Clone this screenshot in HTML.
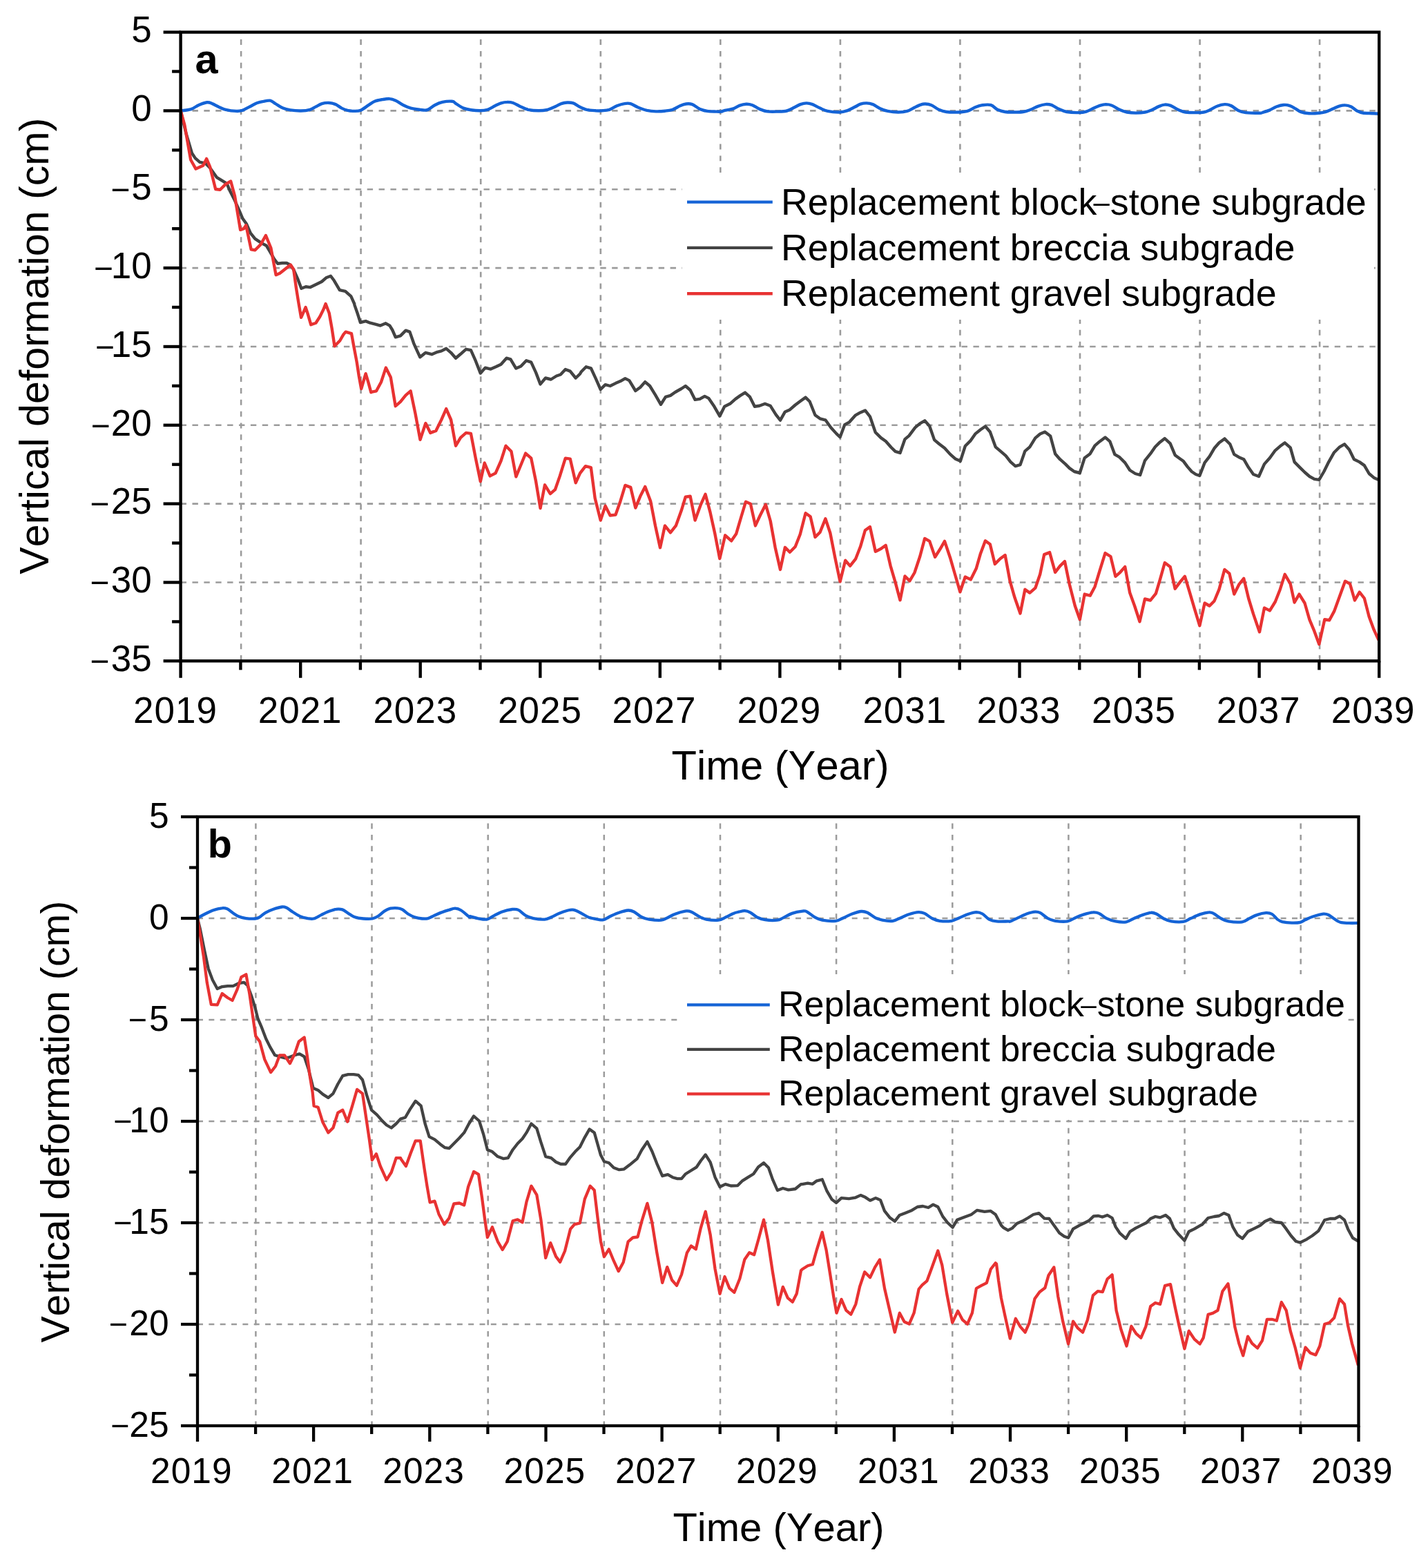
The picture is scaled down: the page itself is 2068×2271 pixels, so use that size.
<!DOCTYPE html>
<html><head><meta charset="utf-8"><title>Vertical deformation</title>
<style>
html,body{margin:0;padding:0;background:#fff;}
svg{display:block;}
text{font-family:"Liberation Sans", Arial, Helvetica, sans-serif;fill:#000;font-kerning:none;}
</style></head><body>
<svg width="2068" height="2271" viewBox="0 0 2068 2271">
<rect width="2068" height="2271" fill="#fff"/>
<g stroke="#9b9b9b" stroke-width="2.6" stroke-dasharray="8.4 8.48" stroke-dashoffset="0" fill="none"><line x1="261.6" y1="160.4" x2="1997.2" y2="160.4"/><line x1="261.6" y1="274.3" x2="1997.2" y2="274.3"/><line x1="261.6" y1="388.1" x2="1997.2" y2="388.1"/><line x1="261.6" y1="502.0" x2="1997.2" y2="502.0"/><line x1="261.6" y1="615.8" x2="1997.2" y2="615.8"/><line x1="261.6" y1="729.6" x2="1997.2" y2="729.6"/><line x1="261.6" y1="843.5" x2="1997.2" y2="843.5"/></g>
<g stroke="#9b9b9b" stroke-width="2.6" stroke-dasharray="7.9 8.93" stroke-dashoffset="6.33" fill="none"><line x1="349.1" y1="46.6" x2="349.1" y2="957.3"/><line x1="522.6" y1="46.6" x2="522.6" y2="957.3"/><line x1="696.2" y1="46.6" x2="696.2" y2="957.3"/><line x1="869.8" y1="46.6" x2="869.8" y2="957.3"/><line x1="1043.3" y1="46.6" x2="1043.3" y2="957.3"/><line x1="1216.9" y1="46.6" x2="1216.9" y2="957.3"/><line x1="1390.4" y1="46.6" x2="1390.4" y2="957.3"/><line x1="1564.0" y1="46.6" x2="1564.0" y2="957.3"/><line x1="1737.6" y1="46.6" x2="1737.6" y2="957.3"/><line x1="1911.1" y1="46.6" x2="1911.1" y2="957.3"/></g>
<rect x="988" y="250" width="1002" height="213" fill="#fff"/>
<path d="M261.6,160.4 C264.1,160.1 272.4,159.5 276.8,158.1 C281.1,156.7 283.9,153.9 287.7,152.2 C291.5,150.6 296.4,148.7 299.7,148.3 C302.9,147.9 304.6,149.0 307.3,150.1 C310.0,151.1 312.7,153.0 316.0,154.4 C319.3,155.9 322.5,157.7 326.9,158.8 C331.3,159.9 338.2,160.8 342.1,160.9 C346.1,161.1 347.6,160.9 350.9,159.9 C354.1,158.8 358.1,156.2 361.8,154.4 C365.4,152.6 369.4,150.2 372.6,149.0 C375.9,147.7 378.3,147.3 381.4,146.8 C384.4,146.2 388.3,145.2 391.2,145.7 C394.1,146.2 395.7,148.2 398.8,150.1 C401.9,151.9 406.1,155.0 409.7,156.6 C413.3,158.2 416.2,158.8 420.6,159.4 C424.9,160.1 431.1,160.6 435.8,160.5 C440.5,160.4 445.3,159.8 448.9,158.8 C452.5,157.8 454.7,155.9 457.6,154.4 C460.5,153.0 463.1,151.0 466.3,150.1 C469.6,149.1 474.0,148.8 477.2,149.0 C480.5,149.1 483.0,149.9 485.9,151.1 C488.8,152.4 491.7,155.1 494.7,156.6 C497.6,158.0 500.1,159.1 503.4,159.9 C506.6,160.6 511.0,161.0 514.3,160.9 C517.5,160.9 519.7,160.9 523.0,159.4 C526.2,158.0 530.6,154.3 533.9,152.2 C537.1,150.1 539.3,148.1 542.6,146.8 C545.8,145.4 549.8,144.8 553.5,144.2 C557.1,143.6 561.1,142.8 564.4,143.1 C567.6,143.3 569.8,144.2 573.1,145.7 C576.4,147.2 580.3,150.4 584.0,152.2 C587.6,154.0 590.9,155.5 594.9,156.6 C598.9,157.7 603.9,158.3 607.9,158.8 C611.9,159.2 615.2,160.3 618.8,159.2 C622.5,158.1 626.1,154.1 629.7,152.2 C633.4,150.3 636.4,148.8 640.6,147.9 C644.8,147.0 651.7,146.4 655.0,146.8 C658.3,147.1 657.6,148.4 660.3,150.1 C662.9,151.7 667.5,155.1 671.1,156.6 C674.8,158.1 678.0,158.6 682.0,159.2 C686.0,159.8 691.1,160.4 695.1,160.3 C699.1,160.2 702.4,159.9 706.0,158.8 C709.6,157.6 713.6,154.9 716.9,153.3 C720.2,151.8 722.7,150.3 725.6,149.4 C728.5,148.5 731.4,147.9 734.3,147.9 C737.2,147.8 739.8,147.9 743.0,149.0 C746.3,150.1 750.3,152.8 753.9,154.4 C757.6,156.0 760.5,157.8 764.8,158.8 C769.2,159.7 775.4,160.3 780.1,160.3 C784.8,160.3 789.2,159.7 793.1,158.8 C797.1,157.8 800.8,155.9 804.0,154.4 C807.3,153.0 809.9,151.0 812.8,150.1 C815.7,149.1 818.6,148.6 821.5,148.5 C824.4,148.4 827.3,148.4 830.2,149.4 C833.1,150.4 835.6,152.9 838.9,154.4 C842.2,156.0 845.8,157.8 849.8,158.8 C853.8,159.7 859.2,160.0 862.9,160.3 C866.5,160.5 868.3,160.5 871.6,160.3 C874.8,160.0 878.8,159.9 882.5,158.8 C886.1,157.6 889.7,154.8 893.4,153.3 C897.0,151.9 901.0,150.6 904.3,150.1 C907.5,149.5 909.7,149.1 913.0,150.1 C916.2,151.0 919.9,153.9 923.9,155.5 C927.9,157.1 932.6,158.9 936.9,159.9 C941.3,160.8 945.7,161.2 950.0,161.4 C954.4,161.5 959.1,161.2 963.1,160.7 C967.1,160.3 970.3,160.0 974.0,158.8 C977.6,157.5 981.6,154.7 984.9,153.3 C988.1,151.9 990.7,150.9 993.6,150.5 C996.5,150.1 999.0,149.9 1002.3,151.1 C1005.6,152.3 1009.6,156.0 1013.2,157.7 C1016.8,159.3 1020.1,160.3 1024.1,160.9 C1028.1,161.6 1033.7,161.5 1037.2,161.6 C1040.6,161.7 1043.2,161.8 1045.0,161.6 C1046.8,161.4 1045.4,160.9 1048.1,160.3 C1050.8,159.6 1057.3,158.9 1061.1,157.7 C1065.0,156.4 1067.7,154.0 1070.9,152.9 C1074.2,151.7 1077.7,150.8 1080.8,150.7 C1083.8,150.6 1086.2,151.0 1089.5,152.2 C1092.7,153.5 1096.7,156.6 1100.4,158.1 C1104.0,159.6 1106.9,160.8 1111.3,161.4 C1115.6,162.0 1121.8,161.7 1126.5,161.6 C1131.2,161.5 1135.6,161.5 1139.6,160.5 C1143.6,159.5 1147.2,157.1 1150.5,155.5 C1153.7,153.9 1156.3,152.2 1159.2,151.1 C1162.1,150.1 1165.0,149.4 1167.9,149.4 C1170.8,149.4 1173.3,149.9 1176.6,151.1 C1179.9,152.3 1183.9,155.0 1187.5,156.6 C1191.1,158.2 1193.7,160.0 1198.4,160.9 C1203.1,161.9 1211.1,162.6 1215.8,162.5 C1220.5,162.4 1223.1,161.5 1226.7,160.3 C1230.4,159.1 1234.3,156.7 1237.6,155.1 C1240.9,153.5 1243.4,151.7 1246.3,150.7 C1249.2,149.8 1252.1,149.3 1255.0,149.4 C1257.9,149.5 1260.5,149.8 1263.8,151.1 C1267.0,152.5 1271.0,155.6 1274.7,157.2 C1278.3,158.9 1281.2,160.1 1285.5,160.9 C1289.9,161.8 1296.1,162.5 1300.8,162.5 C1305.5,162.5 1309.9,162.1 1313.9,160.9 C1317.9,159.8 1321.5,157.1 1324.8,155.5 C1328.0,153.9 1330.9,152.4 1333.5,151.6 C1336.0,150.7 1337.5,150.4 1340.0,150.5 C1342.6,150.6 1345.5,150.9 1348.7,152.2 C1352.0,153.6 1356.0,157.1 1359.6,158.8 C1363.2,160.4 1365.8,161.4 1370.5,162.0 C1375.2,162.7 1382.9,162.7 1387.9,162.5 C1393.0,162.3 1397.0,162.1 1401.0,160.9 C1405.0,159.8 1408.3,157.0 1411.9,155.5 C1415.5,154.0 1419.0,152.8 1422.8,152.2 C1426.6,151.7 1431.4,151.1 1435.0,152.2 C1438.6,153.3 1441.2,157.1 1444.6,158.8 C1448.0,160.4 1451.5,161.4 1455.5,162.0 C1459.5,162.7 1464.2,162.5 1468.6,162.5 C1472.9,162.5 1477.7,162.7 1481.6,162.0 C1485.6,161.4 1488.9,160.1 1492.5,158.8 C1496.2,157.4 1499.8,155.0 1503.4,153.8 C1507.1,152.5 1511.1,151.4 1514.3,151.1 C1517.6,150.9 1519.8,151.1 1523.0,152.2 C1526.3,153.4 1530.3,156.5 1533.9,158.1 C1537.6,159.7 1540.1,161.2 1544.8,162.0 C1549.5,162.9 1557.5,163.2 1562.3,163.1 C1567.0,163.1 1569.5,162.7 1573.1,161.6 C1576.8,160.5 1580.8,158.0 1584.0,156.6 C1587.3,155.1 1589.9,153.8 1592.8,152.9 C1595.7,152.0 1598.6,151.2 1601.5,151.1 C1604.4,151.1 1606.9,151.4 1610.2,152.7 C1613.5,153.9 1617.4,157.1 1621.1,158.8 C1624.7,160.4 1628.0,161.7 1632.0,162.5 C1636.0,163.3 1640.7,163.6 1645.0,163.6 C1649.4,163.6 1654.1,163.3 1658.1,162.5 C1662.1,161.7 1665.7,160.1 1669.0,158.8 C1672.3,157.4 1674.8,155.6 1677.7,154.4 C1680.6,153.2 1683.5,151.8 1686.4,151.6 C1689.3,151.3 1691.9,151.7 1695.2,152.9 C1698.4,154.1 1702.4,157.2 1706.0,158.8 C1709.7,160.4 1712.2,161.7 1716.9,162.5 C1721.7,163.2 1730.0,163.1 1734.4,163.1 C1738.7,163.1 1740.2,163.1 1743.1,162.5 C1746.0,161.9 1748.5,160.9 1751.8,159.4 C1755.1,158.0 1759.1,155.1 1762.7,153.8 C1766.3,152.4 1770.3,151.3 1773.6,151.1 C1776.9,151.0 1779.0,151.4 1782.3,152.9 C1785.6,154.3 1789.6,158.2 1793.2,159.9 C1796.8,161.6 1798.8,162.5 1804.1,163.1 C1809.4,163.8 1821.0,163.8 1825.0,163.8 C1829.0,163.8 1826.1,163.7 1828.3,163.0 C1830.6,162.3 1835.1,161.0 1838.4,159.6 C1841.8,158.2 1845.2,155.8 1848.6,154.5 C1852.0,153.3 1855.6,152.3 1858.7,152.0 C1861.8,151.7 1864.3,152.0 1867.1,152.9 C1870.0,153.7 1872.8,155.5 1875.6,157.1 C1878.4,158.6 1880.7,161.0 1884.0,162.1 C1887.4,163.3 1891.6,163.9 1895.8,164.2 C1900.1,164.5 1905.4,164.2 1909.4,163.8 C1913.3,163.5 1916.1,163.1 1919.5,162.1 C1922.9,161.2 1926.2,159.3 1929.6,157.9 C1933.0,156.5 1936.6,154.6 1939.7,153.7 C1942.8,152.8 1945.4,152.2 1948.2,152.4 C1951.0,152.5 1953.8,153.2 1956.6,154.5 C1959.4,155.9 1962.3,159.0 1965.1,160.5 C1967.9,161.9 1969.9,162.9 1973.5,163.5 C1977.2,164.1 1983.1,164.0 1987.0,164.2 C1991.0,164.4 1995.5,164.6 1997.1,164.7" fill="none" stroke="#1463d6" stroke-width="4.4" stroke-linejoin="round" stroke-linecap="butt"/>
<path d="M261.6,160.4 L269.7,193.9 L277.9,221.7 L282.8,229.1 L289.3,234.8 L297.5,236.4 L304.0,242.9 L313.8,256.8 L320.4,260.9 L328.5,265.8 L333.4,277.3 L340.0,290.3 L346.5,305.0 L351.4,316.5 L357.1,324.6 L362.8,337.7 L369.4,345.9 L379.2,352.4 L385.7,355.7 L390.6,363.9 L397.2,375.3 L402.1,381.8 L408.6,381.0 L415.1,381.0 L420.0,383.5 L424.9,390.0 L431.5,404.7 L436.4,417.8 L442.9,415.3 L449.4,416.1 L457.6,412.1 L465.8,408.0 L472.3,402.3 L478.9,399.8 L483.8,406.3 L491.9,420.2 L500.1,421.9 L508.3,429.2 L513.2,440.0 L513.5,441.9 L518.0,454.8 L521.9,467.0 L529.6,465.1 L536.1,467.7 L543.8,469.6 L550.9,471.6 L558.6,468.3 L564.4,471.6 L568.3,478.0 L572.8,488.3 L579.9,486.4 L587.6,478.6 L593.4,480.6 L599.2,497.3 L604.4,508.9 L608.3,517.3 L615.4,511.5 L616.4,510.8 L625.3,513.2 L633.3,509.8 L639.2,508.4 L646.2,504.8 L653.1,510.8 L660.0,518.7 L667.0,512.8 L674.9,505.8 L681.9,507.2 L688.8,522.7 L695.8,540.6 L702.7,532.6 L710.6,534.6 L718.6,531.0 L725.5,527.7 L733.5,518.7 L739.4,520.3 L747.3,533.6 L754.3,530.6 L762.2,522.3 L769.2,524.7 L776.1,539.6 L782.5,556.4 L790.0,547.5 L797.9,549.5 L805.9,544.5 L811.8,542.5 L818.8,535.0 L825.7,537.6 L833.7,547.5 L840.0,541.5 L841.9,538.2 L848.8,531.3 L855.8,533.3 L862.7,548.1 L869.7,564.0 L876.6,557.1 L883.6,559.0 L891.5,555.1 L898.5,552.1 L905.4,548.1 L911.3,551.1 L920.3,566.0 L927.2,561.0 L934.2,553.1 L941.1,559.0 L949.0,571.9 L957.0,585.8 L963.9,574.9 L970.9,572.9 L977.8,568.0 L986.7,563.0 L992.7,559.0 L999.6,565.0 L1006.6,578.9 L1013.5,577.9 L1020.5,573.9 L1026.4,576.9 L1034.4,588.8 L1042.3,602.7 L1049.2,588.8 L1057.2,584.8 L1065.1,577.9 L1072.1,572.9 L1079.0,568.6 L1086.0,574.9 L1092.9,588.8 L1099.8,587.8 L1107.8,584.8 L1115.7,587.8 L1123.7,600.7 L1130.0,608.7 L1136.9,596.4 L1143.8,593.4 L1151.7,586.5 L1159.7,580.5 L1166.6,575.6 L1172.6,581.5 L1180.5,601.3 L1187.5,606.3 L1195.4,608.3 L1203.3,619.2 L1211.3,628.1 L1216.6,633.1 L1223.2,615.2 L1230.1,611.3 L1239.0,601.3 L1246.0,597.4 L1252.9,594.4 L1259.9,603.3 L1267.8,626.2 L1275.8,634.1 L1282.7,639.0 L1290.6,648.0 L1296.6,653.9 L1303.5,655.9 L1310.5,636.1 L1316.4,631.1 L1325.4,619.2 L1332.3,613.3 L1339.2,609.3 L1346.2,617.2 L1353.1,637.1 L1360.1,643.0 L1368.0,649.0 L1376.0,657.9 L1383.9,664.8 L1390.8,667.8 L1397.8,646.0 L1405.7,638.1 L1412.7,628.1 L1420.0,622.2 L1426.9,617.5 L1433.8,625.5 L1441.7,647.3 L1449.7,654.2 L1456.6,660.2 L1463.6,669.1 L1470.5,675.1 L1477.5,673.1 L1484.4,653.3 L1491.3,647.3 L1499.3,634.4 L1506.2,628.5 L1513.2,625.5 L1521.1,631.4 L1528.1,657.2 L1535.0,665.2 L1542.9,672.1 L1548.9,678.1 L1555.8,683.0 L1563.8,685.0 L1570.7,663.2 L1578.7,657.2 L1585.6,645.3 L1592.5,639.4 L1600.5,633.4 L1607.4,639.4 L1614.4,658.2 L1621.3,662.2 L1629.2,670.1 L1636.2,681.0 L1644.1,686.0 L1651.1,688.0 L1658.0,667.1 L1666.0,657.2 L1672.9,647.3 L1679.8,640.4 L1686.8,635.0 L1694.7,642.3 L1701.7,659.2 L1710.0,665.2 L1713.9,668.1 L1719.8,676.1 L1725.8,683.0 L1731.7,687.0 L1737.3,689.0 L1744.6,670.1 L1751.6,661.2 L1758.5,649.3 L1765.5,641.3 L1773.4,635.4 L1781.3,643.3 L1787.3,658.2 L1794.2,662.2 L1801.2,665.2 L1808.1,677.1 L1815.1,687.0 L1823.0,690.0 L1831.0,672.1 L1838.9,663.2 L1846.8,652.3 L1853.8,646.3 L1860.7,641.3 L1868.7,648.3 L1874.6,669.1 L1882.5,677.1 L1889.5,684.0 L1896.4,690.0 L1903.4,693.9 L1910.3,694.9 L1917.3,683.0 L1924.2,669.1 L1932.1,655.2 L1940.1,647.3 L1947.0,643.3 L1954.0,651.3 L1960.9,665.2 L1968.8,669.1 L1975.8,674.1 L1982.7,686.0 L1989.7,691.9 L1996.6,694.9" fill="none" stroke="#434343" stroke-width="4.4" stroke-linejoin="round" stroke-linecap="butt"/>
<path d="M261.6,160.4 L267.3,180.8 L276.2,231.5 L283.6,244.6 L294.2,239.7 L299.1,229.9 L304.0,241.3 L312.2,274.0 L318.7,274.8 L326.9,266.6 L334.2,262.5 L340.0,283.8 L348.1,332.8 L353.0,331.2 L356.3,326.3 L363.7,361.4 L369.4,362.2 L377.5,354.1 L384.9,341.0 L392.3,359.0 L399.6,398.2 L405.3,395.7 L420.8,383.5 L425.2,390.3 L429.0,417.4 L432.3,438.0 L436.1,459.9 L442.6,445.1 L445.8,454.8 L450.3,470.3 L457.4,467.7 L463.2,458.7 L468.4,448.3 L471.6,440.0 L476.7,453.5 L480.6,475.4 L484.5,501.2 L492.2,493.5 L497.4,484.4 L500.6,480.6 L509.0,483.2 L512.8,503.8 L516.7,524.4 L519.9,545.1 L523.2,563.1 L529.6,541.2 L533.5,554.1 L537.3,568.3 L540.0,567.3 L545.0,566.3 L551.9,553.5 L558.8,532.6 L565.8,546.5 L572.7,588.2 L579.7,582.2 L587.6,572.3 L594.6,566.3 L601.5,599.1 L608.5,636.8 L616.4,613.0 L623.3,626.9 L631.3,623.9 L639.2,608.0 L646.2,592.1 L653.1,608.0 L660.0,645.7 L667.0,633.8 L674.9,626.9 L681.9,627.9 L688.8,663.6 L695.8,697.3 L701.7,670.5 L709.6,689.4 L717.6,685.4 L725.5,667.5 L732.5,645.7 L740.4,653.7 L747.3,690.4 L754.3,673.5 L761.2,656.6 L769.2,663.6 L776.1,697.3 L782.5,736.0 L789.0,702.3 L796.9,715.2 L803.9,709.2 L810.8,689.4 L818.8,663.6 L825.7,664.6 L833.7,699.3 L840.0,685.4 L847.9,675.1 L855.8,677.1 L861.7,721.7 L869.7,753.5 L876.6,732.7 L883.6,746.5 L891.5,745.6 L898.5,725.7 L905.4,702.9 L913.3,705.9 L920.3,735.6 L927.2,718.8 L934.2,704.9 L942.1,725.7 L949.0,761.4 L956.0,793.2 L962.9,761.4 L970.9,771.3 L978.8,761.4 L986.7,739.6 L992.7,719.8 L999.6,718.8 L1006.6,753.5 L1014.5,731.7 L1021.5,715.8 L1028.4,741.6 L1035.4,773.3 L1042.3,809.0 L1050.2,775.3 L1059.2,783.3 L1066.1,773.3 L1073.1,749.5 L1080.0,726.7 L1086.9,729.7 L1093.9,761.4 L1100.8,746.5 L1108.8,730.7 L1115.7,754.5 L1122.7,793.2 L1130.0,824.9 L1136.9,792.8 L1143.8,799.8 L1151.7,791.8 L1158.7,774.0 L1166.6,743.2 L1173.6,748.2 L1180.5,777.9 L1187.5,771.0 L1195.4,751.2 L1202.3,772.0 L1209.3,807.7 L1216.6,842.4 L1224.2,811.7 L1231.1,819.6 L1239.0,809.7 L1246.0,791.8 L1252.9,768.0 L1259.9,763.1 L1267.8,798.8 L1275.8,794.8 L1282.7,789.8 L1289.6,819.6 L1296.6,843.4 L1303.5,869.2 L1310.5,834.5 L1317.4,841.4 L1324.4,829.5 L1332.3,805.7 L1339.2,779.9 L1346.2,783.9 L1354.1,806.7 L1361.1,795.8 L1368.0,783.9 L1376.0,807.7 L1382.9,831.5 L1390.4,857.3 L1397.8,835.5 L1405.7,839.4 L1413.7,823.6 L1420.0,801.7 L1426.9,783.2 L1433.8,788.2 L1440.8,816.9 L1448.7,809.0 L1455.6,804.0 L1462.6,841.7 L1469.5,865.6 L1477.5,888.4 L1484.4,853.7 L1491.3,858.6 L1499.3,851.7 L1506.2,831.8 L1512.2,803.1 L1520.1,800.1 L1528.1,828.8 L1535.0,819.9 L1541.9,813.0 L1548.9,846.7 L1556.8,877.5 L1563.8,897.3 L1570.7,860.6 L1578.7,862.6 L1585.6,849.7 L1592.5,826.9 L1600.5,801.1 L1608.4,806.0 L1615.4,834.8 L1622.3,828.8 L1629.2,820.9 L1636.2,858.6 L1643.1,877.5 L1650.5,900.3 L1658.0,867.5 L1666.0,869.5 L1673.9,859.6 L1679.8,839.8 L1686.8,815.0 L1694.7,820.9 L1701.7,852.7 L1710.0,841.7 L1715.9,834.8 L1722.8,857.6 L1729.8,881.4 L1737.3,906.2 L1744.6,873.5 L1751.6,877.5 L1758.5,870.5 L1765.5,853.7 L1773.4,824.9 L1780.4,830.8 L1787.3,860.6 L1794.2,846.7 L1801.2,837.8 L1808.1,866.5 L1815.1,889.4 L1824.0,915.2 L1831.0,880.4 L1838.9,884.4 L1846.8,871.5 L1853.8,853.7 L1860.7,831.8 L1868.7,845.7 L1874.6,872.5 L1881.5,860.6 L1889.5,873.5 L1896.4,897.3 L1903.4,914.2 L1910.3,933.0 L1918.3,897.3 L1925.2,898.3 L1932.1,885.4 L1940.1,863.6 L1948.0,841.7 L1955.0,845.7 L1961.9,869.5 L1968.8,857.6 L1975.8,866.5 L1982.7,893.3 L1989.7,912.2 L1996.6,927.1" fill="none" stroke="#e83232" stroke-width="4.4" stroke-linejoin="round" stroke-linecap="butt"/>
<line x1="995" y1="292.6" x2="1118.8" y2="292.6" stroke="#1463d6" stroke-width="4.4"/>
<text x="1130.9" y="310.5" font-size="53.8">Replacement block<tspan dx="-4.80" dy="-3.40" font-size="41.96">–</tspan><tspan dx="0.90" dy="3.40">stone subgrade</tspan></text>
<line x1="995" y1="358.9" x2="1118.8" y2="358.9" stroke="#434343" stroke-width="4.4"/>
<text x="1130.9" y="376.8" font-size="53.8">Replacement breccia subgrade</text>
<line x1="995" y1="425.2" x2="1118.8" y2="425.2" stroke="#e83232" stroke-width="4.4"/>
<text x="1130.9" y="443.1" font-size="53.8">Replacement gravel subgrade</text>
<rect x="261.6" y="46.6" width="1735.6" height="910.7" fill="none" stroke="#000" stroke-width="4.4"/>
<g stroke="#000" stroke-width="4.4"><line x1="236.6" y1="46.6" x2="261.6" y2="46.6"/><line x1="249.1" y1="103.5" x2="261.6" y2="103.5"/><line x1="236.6" y1="160.4" x2="261.6" y2="160.4"/><line x1="249.1" y1="217.4" x2="261.6" y2="217.4"/><line x1="236.6" y1="274.3" x2="261.6" y2="274.3"/><line x1="249.1" y1="331.2" x2="261.6" y2="331.2"/><line x1="236.6" y1="388.1" x2="261.6" y2="388.1"/><line x1="249.1" y1="445.0" x2="261.6" y2="445.0"/><line x1="236.6" y1="502.0" x2="261.6" y2="502.0"/><line x1="249.1" y1="558.9" x2="261.6" y2="558.9"/><line x1="236.6" y1="615.8" x2="261.6" y2="615.8"/><line x1="249.1" y1="672.7" x2="261.6" y2="672.7"/><line x1="236.6" y1="729.6" x2="261.6" y2="729.6"/><line x1="249.1" y1="786.5" x2="261.6" y2="786.5"/><line x1="236.6" y1="843.5" x2="261.6" y2="843.5"/><line x1="249.1" y1="900.4" x2="261.6" y2="900.4"/><line x1="236.6" y1="957.3" x2="261.6" y2="957.3"/><line x1="261.6" y1="957.3" x2="261.6" y2="981.8"/><line x1="348.4" y1="957.3" x2="348.4" y2="970.3"/><line x1="435.2" y1="957.3" x2="435.2" y2="981.8"/><line x1="521.9" y1="957.3" x2="521.9" y2="970.3"/><line x1="608.7" y1="957.3" x2="608.7" y2="981.8"/><line x1="695.5" y1="957.3" x2="695.5" y2="970.3"/><line x1="782.3" y1="957.3" x2="782.3" y2="981.8"/><line x1="869.1" y1="957.3" x2="869.1" y2="970.3"/><line x1="955.8" y1="957.3" x2="955.8" y2="981.8"/><line x1="1042.6" y1="957.3" x2="1042.6" y2="970.3"/><line x1="1129.4" y1="957.3" x2="1129.4" y2="981.8"/><line x1="1216.2" y1="957.3" x2="1216.2" y2="970.3"/><line x1="1303.0" y1="957.3" x2="1303.0" y2="981.8"/><line x1="1389.7" y1="957.3" x2="1389.7" y2="970.3"/><line x1="1476.5" y1="957.3" x2="1476.5" y2="981.8"/><line x1="1563.3" y1="957.3" x2="1563.3" y2="970.3"/><line x1="1650.1" y1="957.3" x2="1650.1" y2="981.8"/><line x1="1736.9" y1="957.3" x2="1736.9" y2="970.3"/><line x1="1823.6" y1="957.3" x2="1823.6" y2="981.8"/><line x1="1910.4" y1="957.3" x2="1910.4" y2="970.3"/><line x1="1997.2" y1="957.3" x2="1997.2" y2="981.8"/></g>
<g font-size="53"><text x="219.8" y="61.4" text-anchor="end">5</text><text x="219.8" y="175.2" text-anchor="end">0</text><text x="219.8" y="289.1" text-anchor="end"><tspan font-size="48.0" dy="2">−</tspan><tspan dx="2.1" dy="-2" font-size="53">5</tspan></text><text x="219.8" y="402.9" text-anchor="end"><tspan font-size="48.0" dy="2">−</tspan><tspan dx="-3.0" dy="-2" font-size="53">10</tspan></text><text x="219.8" y="516.8" text-anchor="end"><tspan font-size="48.0" dy="2">−</tspan><tspan dx="-4.9" dy="-2" font-size="53">15</tspan></text><text x="219.8" y="630.6" text-anchor="end"><tspan font-size="48.0" dy="2">−</tspan><tspan dx="1.3" dy="-2" font-size="53">20</tspan></text><text x="219.8" y="744.4" text-anchor="end"><tspan font-size="48.0" dy="2">−</tspan><tspan dx="2.5" dy="-2" font-size="53">25</tspan></text><text x="219.8" y="858.3" text-anchor="end"><tspan font-size="48.0" dy="2">−</tspan><tspan dx="2.5" dy="-2" font-size="53">30</tspan></text><text x="219.8" y="972.1" text-anchor="end"><tspan font-size="48.0" dy="2">−</tspan><tspan dx="2.5" dy="-2" font-size="53">35</tspan></text></g>
<g font-size="53" letter-spacing="1"><text x="193.0" y="1047">2019</text><text x="373.7" y="1047">2021</text><text x="540.4" y="1047">2023</text><text x="721.1" y="1047">2025</text><text x="886.6" y="1047">2027</text><text x="1067.4" y="1047">2029</text><text x="1249.4" y="1047">2031</text><text x="1414.5" y="1047">2033</text><text x="1581.0" y="1047">2035</text><text x="1761.7" y="1047">2037</text><text x="1927.7" y="1047">2039</text></g>
<text x="1130" y="1128.5" font-size="59.7" text-anchor="middle">Time (Year)</text>
<text transform="translate(69.8,501.2) rotate(-90)" font-size="59.2" text-anchor="middle">Vertical deformation (cm)</text>
<text x="282.5" y="106.3" font-size="59.6" font-weight="bold">a</text>
<g stroke="#9b9b9b" stroke-width="2.5" stroke-dasharray="8.0 8.34" stroke-dashoffset="0" fill="none"><line x1="286.0" y1="1330.0" x2="1967.5" y2="1330.0"/><line x1="286.0" y1="1477.0" x2="1967.5" y2="1477.0"/><line x1="286.0" y1="1624.0" x2="1967.5" y2="1624.0"/><line x1="286.0" y1="1771.0" x2="1967.5" y2="1771.0"/><line x1="286.0" y1="1918.0" x2="1967.5" y2="1918.0"/></g>
<g stroke="#9b9b9b" stroke-width="2.5" stroke-dasharray="7.8 8.54" stroke-dashoffset="6.74" fill="none"><line x1="370.4" y1="1183.0" x2="370.4" y2="2065.0"/><line x1="538.5" y1="1183.0" x2="538.5" y2="2065.0"/><line x1="706.7" y1="1183.0" x2="706.7" y2="2065.0"/><line x1="874.8" y1="1183.0" x2="874.8" y2="2065.0"/><line x1="1043.0" y1="1183.0" x2="1043.0" y2="2065.0"/><line x1="1211.1" y1="1183.0" x2="1211.1" y2="2065.0"/><line x1="1379.3" y1="1183.0" x2="1379.3" y2="2065.0"/><line x1="1547.4" y1="1183.0" x2="1547.4" y2="2065.0"/><line x1="1715.6" y1="1183.0" x2="1715.6" y2="2065.0"/><line x1="1883.7" y1="1183.0" x2="1883.7" y2="2065.0"/></g>
<rect x="982" y="1411" width="968" height="211" fill="#fff"/>
<path d="M286.0,1330.0 C286.1,1329.9 284.6,1330.5 286.5,1329.4 C288.4,1328.3 293.8,1325.3 297.4,1323.5 C301.1,1321.7 304.3,1319.9 308.3,1318.5 C312.3,1317.1 317.9,1315.6 321.4,1315.3 C324.8,1314.9 326.5,1315.3 329.0,1316.3 C331.6,1317.4 333.9,1320.0 336.6,1321.8 C339.4,1323.6 342.1,1325.9 345.4,1327.2 C348.6,1328.6 352.3,1329.5 356.3,1330.1 C360.2,1330.6 366.1,1330.8 369.3,1330.5 C372.6,1330.2 373.3,1329.8 375.9,1328.3 C378.4,1326.9 381.3,1323.7 384.6,1321.8 C387.8,1319.9 391.5,1318.4 395.5,1317.0 C399.5,1315.6 405.3,1313.9 408.5,1313.5 C411.8,1313.1 412.5,1313.6 415.1,1314.8 C417.6,1316.0 420.5,1318.6 423.8,1320.7 C427.1,1322.8 431.1,1325.7 434.7,1327.2 C438.3,1328.8 442.3,1329.5 445.6,1330.1 C448.8,1330.6 451.0,1331.3 454.3,1330.5 C457.6,1329.7 461.6,1326.8 465.2,1325.1 C468.8,1323.3 472.4,1321.4 476.1,1320.0 C479.7,1318.7 483.7,1317.2 487.0,1316.8 C490.2,1316.3 492.8,1316.4 495.7,1317.4 C498.6,1318.4 501.5,1321.1 504.4,1322.9 C507.3,1324.6 509.5,1326.6 513.1,1327.9 C516.7,1329.2 521.8,1330.1 526.2,1330.5 C530.5,1330.9 535.6,1331.2 539.3,1330.5 C542.9,1329.8 545.1,1328.4 548.0,1326.6 C550.9,1324.8 553.8,1321.4 556.7,1319.6 C559.6,1317.8 562.1,1316.4 565.4,1315.7 C568.7,1315.0 573.4,1315.0 576.3,1315.3 C579.2,1315.5 580.3,1316.0 582.8,1317.4 C585.4,1318.9 588.6,1322.1 591.5,1324.0 C594.5,1325.8 597.0,1327.2 600.3,1328.3 C603.5,1329.4 607.9,1330.2 611.2,1330.5 C614.4,1330.8 617.0,1330.8 619.9,1330.1 C622.8,1329.3 625.3,1327.6 628.6,1326.1 C631.9,1324.7 635.8,1322.7 639.5,1321.4 C643.1,1320.0 647.1,1318.8 650.4,1317.9 C653.6,1316.9 656.2,1315.6 659.1,1315.7 C662.0,1315.8 664.3,1316.4 667.8,1318.5 C671.3,1320.6 677.8,1326.9 680.0,1328.3 C682.2,1329.8 678.9,1326.9 680.9,1327.2 C682.9,1327.5 687.8,1329.3 691.8,1330.1 C695.8,1330.8 701.2,1332.1 704.9,1331.6 C708.5,1331.1 709.9,1329.0 713.6,1327.2 C717.2,1325.4 721.9,1322.4 726.6,1320.7 C731.4,1319.0 737.9,1317.5 741.9,1317.0 C745.9,1316.5 747.3,1316.3 750.6,1317.9 C753.9,1319.4 757.9,1324.1 761.5,1326.1 C765.1,1328.2 767.9,1329.2 772.4,1330.1 C776.9,1331.0 784.4,1331.9 788.7,1331.6 C793.1,1331.3 795.1,1329.8 798.5,1328.3 C802.0,1326.9 805.4,1324.5 809.4,1322.9 C813.4,1321.2 818.9,1319.4 822.5,1318.5 C826.1,1317.7 828.0,1317.1 831.2,1317.9 C834.5,1318.6 838.5,1321.1 842.1,1322.9 C845.7,1324.7 849.0,1327.3 853.0,1328.8 C857.0,1330.2 862.6,1331.0 866.1,1331.6 C869.5,1332.2 870.8,1333.0 873.7,1332.2 C876.6,1331.5 879.7,1329.0 883.5,1327.2 C887.3,1325.5 892.2,1323.2 896.6,1321.8 C900.9,1320.3 906.0,1318.7 909.7,1318.5 C913.3,1318.3 915.1,1319.1 918.4,1320.7 C921.6,1322.3 925.6,1326.5 929.3,1328.3 C932.9,1330.1 935.4,1330.9 940.2,1331.6 C944.9,1332.3 953.2,1333.0 957.6,1332.7 C961.9,1332.3 963.0,1330.9 966.3,1329.4 C969.6,1328.0 972.8,1325.6 977.2,1324.0 C981.5,1322.3 988.4,1320.2 992.4,1319.6 C996.4,1319.1 997.9,1319.4 1001.2,1320.7 C1004.4,1322.0 1008.4,1325.4 1012.0,1327.2 C1015.7,1329.0 1018.2,1330.7 1022.9,1331.6 C1027.7,1332.5 1035.6,1333.2 1040.4,1332.7 C1045.1,1332.1 1047.6,1330.0 1051.3,1328.3 C1054.9,1326.7 1059.0,1324.1 1062.2,1322.9 C1065.3,1321.6 1067.3,1321.3 1070.0,1320.7 C1072.7,1320.1 1075.8,1319.1 1078.5,1319.2 C1081.2,1319.3 1083.1,1319.8 1086.1,1321.4 C1089.2,1322.9 1093.4,1326.9 1097.0,1328.8 C1100.7,1330.6 1103.2,1331.6 1107.9,1332.2 C1112.7,1332.9 1121.0,1333.2 1125.4,1332.7 C1129.7,1332.2 1130.4,1331.0 1134.1,1329.4 C1137.7,1327.8 1142.4,1324.5 1147.1,1322.9 C1151.9,1321.2 1158.8,1320.0 1162.4,1319.6 C1166.0,1319.2 1166.0,1319.2 1168.9,1320.7 C1171.8,1322.1 1176.2,1326.3 1179.8,1328.3 C1183.5,1330.3 1185.6,1331.8 1190.7,1332.7 C1195.8,1333.6 1205.2,1334.3 1210.3,1333.8 C1215.4,1333.2 1217.2,1331.1 1221.2,1329.4 C1225.2,1327.7 1229.9,1325.1 1234.3,1323.5 C1238.6,1322.0 1243.7,1320.3 1247.4,1320.0 C1251.0,1319.8 1252.8,1320.3 1256.1,1321.8 C1259.3,1323.2 1263.3,1326.9 1267.0,1328.8 C1270.6,1330.6 1273.5,1331.8 1277.9,1332.7 C1282.2,1333.5 1288.8,1334.3 1293.1,1333.8 C1297.5,1333.2 1300.0,1331.0 1304.0,1329.4 C1308.0,1327.8 1312.7,1325.3 1317.1,1324.0 C1321.4,1322.6 1326.5,1321.3 1330.2,1321.1 C1333.8,1321.0 1335.6,1321.4 1338.9,1322.9 C1342.1,1324.4 1346.1,1328.2 1349.8,1330.1 C1353.4,1331.9 1355.9,1333.2 1360.7,1333.8 C1365.4,1334.4 1373.4,1334.5 1378.1,1333.8 C1382.8,1333.0 1385.0,1331.0 1389.0,1329.4 C1393.0,1327.8 1397.9,1325.3 1402.0,1324.0 C1406.2,1322.6 1410.6,1321.2 1414.0,1321.1 C1417.5,1321.1 1419.7,1321.8 1422.7,1323.5 C1425.8,1325.3 1429.1,1329.8 1432.5,1331.6 C1436.0,1333.4 1438.9,1334.0 1443.4,1334.4 C1448.0,1334.9 1456.7,1334.4 1460.0,1334.4 C1463.3,1334.4 1460.7,1335.3 1463.1,1334.4 C1465.4,1333.6 1470.0,1331.2 1474.0,1329.4 C1478.0,1327.6 1482.9,1325.0 1487.0,1323.5 C1491.2,1322.1 1495.8,1320.9 1499.0,1320.7 C1502.3,1320.5 1503.6,1320.7 1506.6,1322.2 C1509.7,1323.8 1513.9,1328.1 1517.5,1330.1 C1521.2,1332.0 1523.7,1333.0 1528.4,1333.8 C1533.2,1334.5 1541.1,1335.1 1545.9,1334.4 C1550.6,1333.7 1552.8,1331.1 1556.8,1329.4 C1560.7,1327.7 1565.5,1325.7 1569.8,1324.4 C1574.2,1323.1 1579.3,1321.6 1582.9,1321.4 C1586.5,1321.1 1588.3,1321.4 1591.6,1322.9 C1594.9,1324.3 1598.5,1328.1 1602.5,1330.1 C1606.5,1332.0 1610.9,1333.6 1615.6,1334.4 C1620.3,1335.3 1626.5,1335.9 1630.8,1335.3 C1635.2,1334.6 1637.7,1332.2 1641.7,1330.5 C1645.7,1328.8 1650.6,1326.5 1654.8,1325.1 C1659.0,1323.6 1663.5,1322.0 1666.8,1321.8 C1670.0,1321.5 1671.3,1322.1 1674.4,1323.5 C1677.5,1325.0 1681.7,1328.7 1685.3,1330.5 C1688.9,1332.3 1691.5,1333.7 1696.2,1334.4 C1700.9,1335.1 1708.9,1335.6 1713.6,1334.9 C1718.3,1334.1 1720.5,1331.8 1724.5,1330.1 C1728.5,1328.3 1733.2,1325.9 1737.6,1324.4 C1741.9,1322.9 1747.4,1321.6 1750.7,1321.4 C1753.9,1321.1 1754.3,1321.4 1757.2,1322.9 C1760.1,1324.3 1764.5,1328.1 1768.1,1330.1 C1771.7,1332.0 1773.9,1333.6 1779.0,1334.4 C1784.1,1335.3 1793.5,1336.0 1798.6,1335.3 C1803.7,1334.6 1805.8,1331.8 1809.5,1330.1 C1813.1,1328.4 1816.4,1326.4 1820.4,1325.1 C1824.4,1323.7 1829.8,1322.4 1833.4,1322.2 C1837.1,1322.0 1839.4,1322.4 1842.2,1324.0 C1844.9,1325.5 1847.5,1329.7 1850.0,1331.6 C1852.5,1333.4 1853.6,1334.2 1857.1,1335.1 C1860.6,1335.9 1866.5,1336.5 1870.8,1336.6 C1875.1,1336.7 1879.7,1336.6 1883.0,1335.8 C1886.3,1335.1 1887.6,1333.4 1890.6,1332.0 C1893.7,1330.6 1897.0,1328.8 1901.3,1327.5 C1905.6,1326.1 1912.7,1324.0 1916.6,1323.6 C1920.4,1323.3 1921.6,1324.0 1924.2,1325.2 C1926.7,1326.3 1929.0,1328.7 1931.8,1330.5 C1934.6,1332.3 1937.4,1334.8 1941.0,1335.8 C1944.5,1336.9 1948.8,1336.7 1953.2,1336.9 C1957.5,1337.1 1964.6,1336.9 1966.9,1336.9" fill="none" stroke="#1463d6" stroke-width="4.3" stroke-linejoin="round" stroke-linecap="butt"/>
<path d="M286.0,1330.0 L289.9,1345.8 L295.9,1375.6 L301.8,1403.3 L307.8,1419.2 L314.7,1432.1 L321.7,1429.1 L329.6,1428.1 L337.5,1428.1 L345.5,1424.2 L353.4,1422.8 L358.4,1427.1 L364.3,1443.0 L369.3,1458.9 L373.3,1474.8 L379.2,1488.7 L385.2,1504.5 L391.1,1516.4 L398.1,1528.3 L405.0,1530.3 L412.9,1532.3 L418.9,1531.3 L426.8,1528.3 L433.8,1526.3 L440.7,1530.3 L446.7,1548.2 L453.6,1576.0 L460.6,1578.9 L467.5,1584.9 L475.4,1589.8 L482.4,1583.9 L489.3,1570.0 L496.3,1558.1 L504.2,1556.1 L512.1,1556.1 L519.1,1557.1 L525.0,1564.0 L531.0,1585.9 L537.9,1607.7 L545.9,1614.6 L553.8,1623.6 L559.8,1629.5 L566.7,1633.5 L573.7,1627.5 L580.0,1620.6 L586.9,1618.5 L593.8,1606.6 L601.7,1594.7 L609.7,1601.7 L615.6,1627.5 L621.6,1646.3 L629.5,1650.3 L637.5,1657.2 L644.4,1662.2 L650.4,1663.2 L658.3,1655.2 L665.2,1648.3 L672.2,1640.4 L679.1,1627.5 L686.1,1616.5 L694.0,1623.5 L700.0,1642.3 L705.9,1665.2 L712.9,1668.1 L720.8,1675.1 L728.7,1678.1 L735.7,1677.1 L742.6,1665.2 L749.6,1656.2 L756.5,1649.3 L762.5,1640.4 L769.4,1627.5 L777.3,1634.4 L783.3,1654.2 L790.2,1675.1 L798.2,1677.1 L805.1,1683.0 L812.1,1686.0 L819.0,1686.0 L826.0,1676.1 L832.9,1668.1 L839.8,1661.2 L846.8,1647.3 L853.7,1635.4 L860.7,1640.4 L870.0,1673.1 L874.9,1682.3 L881.8,1684.3 L888.8,1691.3 L896.7,1694.2 L903.7,1693.3 L911.6,1687.3 L922.5,1678.4 L929.4,1665.5 L937.4,1653.6 L944.3,1667.5 L951.3,1685.3 L959.2,1703.2 L967.1,1701.2 L974.1,1705.2 L981.0,1707.1 L987.0,1707.1 L992.9,1700.2 L1000.9,1695.2 L1008.8,1690.3 L1014.8,1681.3 L1021.7,1672.4 L1028.7,1683.3 L1035.6,1705.2 L1042.5,1719.0 L1050.5,1715.1 L1058.4,1717.5 L1068.3,1717.1 L1075.3,1710.1 L1083.2,1705.2 L1091.2,1700.2 L1098.1,1690.3 L1106.0,1684.3 L1113.0,1691.3 L1118.9,1708.1 L1125.9,1724.0 L1133.8,1721.0 L1141.7,1723.4 L1151.7,1722.0 L1160.0,1715.1 L1161.9,1715.2 L1169.8,1713.7 L1176.8,1714.8 L1182.7,1710.3 L1190.7,1708.3 L1197.6,1725.2 L1204.6,1737.1 L1211.1,1742.0 L1218.5,1735.1 L1229.4,1736.1 L1238.3,1734.7 L1246.2,1731.1 L1253.2,1734.1 L1260.1,1738.7 L1268.1,1735.1 L1275.0,1738.1 L1281.0,1753.9 L1288.9,1763.8 L1295.8,1768.8 L1302.8,1759.9 L1310.7,1756.9 L1320.6,1752.9 L1328.6,1748.0 L1336.5,1747.0 L1344.4,1749.0 L1351.4,1744.6 L1358.3,1748.0 L1365.3,1761.9 L1372.2,1770.8 L1379.6,1777.7 L1386.1,1766.8 L1396.0,1762.9 L1406.9,1758.9 L1414.9,1752.9 L1425.8,1754.9 L1434.7,1753.9 L1441.7,1758.9 L1450.0,1774.8 L1452.9,1777.9 L1459.8,1781.9 L1465.8,1778.9 L1472.7,1771.9 L1480.7,1768.6 L1488.6,1764.0 L1496.5,1759.0 L1504.5,1757.1 L1512.4,1764.6 L1519.4,1765.0 L1527.3,1775.9 L1534.2,1785.8 L1541.2,1790.8 L1547.1,1792.8 L1554.1,1779.9 L1563.0,1774.9 L1571.0,1771.0 L1576.9,1768.0 L1583.8,1761.4 L1590.8,1761.0 L1596.7,1762.6 L1603.7,1760.0 L1610.6,1764.0 L1615.6,1776.9 L1621.5,1785.8 L1630.5,1793.8 L1636.4,1783.8 L1644.4,1778.9 L1652.3,1774.9 L1660.2,1771.0 L1666.2,1765.0 L1673.1,1762.0 L1680.1,1763.4 L1688.0,1760.0 L1694.0,1765.0 L1699.9,1778.9 L1706.9,1787.8 L1715.4,1796.7 L1721.7,1783.8 L1729.7,1779.9 L1740.0,1773.9 L1740.7,1773.9 L1749.6,1764.0 L1758.5,1762.0 L1765.5,1761.0 L1772.4,1757.1 L1779.4,1760.0 L1785.3,1776.9 L1792.3,1788.8 L1799.2,1793.8 L1807.1,1783.8 L1817.1,1778.9 L1825.0,1774.9 L1831.9,1769.0 L1839.9,1765.6 L1846.8,1770.0 L1855.8,1771.0 L1862.7,1779.9 L1869.6,1789.8 L1876.6,1797.7 L1882.9,1799.7 L1892.5,1794.8 L1900.4,1789.8 L1909.3,1782.9 L1918.3,1767.0 L1926.2,1765.0 L1933.1,1765.0 L1940.1,1761.4 L1947.0,1767.0 L1952.0,1779.9 L1958.9,1792.8 L1966.9,1797.7" fill="none" stroke="#434343" stroke-width="4.3" stroke-linejoin="round" stroke-linecap="butt"/>
<path d="M286.0,1330.0 L289.9,1353.7 L294.9,1385.5 L299.8,1423.2 L305.8,1454.9 L314.7,1455.3 L321.7,1439.0 L329.6,1445.0 L336.5,1449.0 L343.5,1433.1 L349.4,1415.2 L356.4,1411.3 L361.3,1439.0 L365.3,1466.8 L370.3,1500.6 L376.2,1508.5 L383.2,1534.3 L392.1,1553.1 L399.0,1544.2 L405.0,1528.3 L411.9,1528.3 L419.9,1540.2 L426.8,1526.3 L432.8,1508.5 L440.7,1502.5 L444.7,1528.3 L448.7,1558.1 L452.6,1581.9 L454.6,1601.7 L460.6,1603.7 L467.5,1625.6 L475.4,1640.4 L482.4,1633.5 L489.3,1611.7 L496.3,1607.7 L503.2,1624.6 L510.2,1601.7 L517.1,1577.9 L525.0,1583.9 L530.0,1617.6 L535.0,1651.3 L538.9,1680.1 L544.9,1671.2 L550.8,1689.0 L559.8,1708.9 L566.7,1698.0 L573.7,1677.1 L580.0,1677.1 L580.9,1679.0 L587.9,1689.0 L594.8,1670.1 L601.7,1652.3 L608.7,1652.3 L614.6,1692.9 L618.6,1718.7 L622.6,1741.5 L629.5,1739.6 L635.5,1758.4 L643.4,1773.3 L650.4,1764.4 L657.3,1743.5 L665.2,1742.5 L672.2,1745.5 L678.1,1718.7 L686.1,1696.9 L693.0,1700.9 L698.0,1734.6 L701.9,1764.4 L705.9,1792.1 L712.9,1777.3 L720.8,1798.1 L727.7,1810.0 L734.7,1798.1 L742.6,1768.3 L749.6,1766.3 L756.5,1770.3 L762.5,1740.6 L769.4,1717.7 L777.3,1730.6 L783.3,1766.3 L790.2,1821.9 L797.2,1800.1 L805.1,1819.9 L811.1,1827.9 L818.0,1812.0 L826.0,1780.2 L831.9,1773.3 L839.8,1771.3 L846.8,1736.6 L854.7,1717.7 L860.7,1723.7 L865.6,1764.4 L870.0,1798.1 L874.9,1820.2 L881.8,1809.3 L888.8,1826.2 L895.7,1841.1 L902.7,1828.2 L909.6,1798.4 L916.5,1792.5 L923.5,1791.5 L929.4,1768.7 L937.4,1742.9 L944.3,1770.6 L951.3,1814.3 L959.2,1857.9 L966.2,1835.1 L973.1,1854.0 L980.0,1861.9 L987.0,1846.0 L994.9,1814.3 L1000.9,1804.4 L1007.8,1809.3 L1014.8,1778.6 L1021.7,1754.8 L1028.7,1788.5 L1035.6,1838.1 L1042.5,1873.8 L1049.5,1849.0 L1056.4,1865.9 L1063.4,1871.8 L1071.3,1852.0 L1078.3,1824.2 L1085.2,1814.3 L1092.1,1817.3 L1099.1,1792.5 L1106.0,1766.7 L1112.0,1796.4 L1118.9,1842.1 L1126.9,1889.7 L1133.8,1863.9 L1140.8,1879.8 L1147.7,1885.7 L1153.7,1873.8 L1160.0,1840.1 L1161.9,1838.3 L1169.8,1833.3 L1176.8,1831.3 L1182.7,1810.5 L1190.7,1784.7 L1196.6,1810.5 L1202.6,1848.2 L1207.5,1879.9 L1211.5,1901.7 L1218.5,1881.9 L1225.4,1897.8 L1232.3,1903.7 L1239.3,1888.8 L1245.2,1863.1 L1252.2,1842.2 L1260.1,1850.2 L1267.1,1835.3 L1274.0,1824.4 L1281.0,1866.0 L1287.9,1895.8 L1295.8,1929.5 L1302.8,1901.7 L1309.7,1914.6 L1316.7,1917.6 L1323.6,1901.7 L1330.6,1867.0 L1335.5,1861.1 L1342.5,1855.1 L1349.4,1836.3 L1358.3,1811.5 L1364.3,1832.3 L1371.2,1874.0 L1379.2,1915.6 L1387.1,1898.8 L1394.0,1911.7 L1401.0,1917.6 L1407.9,1901.7 L1413.9,1866.0 L1420.8,1862.1 L1428.8,1858.1 L1434.7,1838.3 L1441.7,1829.3 L1443.0,1830.5 L1446.0,1854.3 L1449.9,1880.1 L1455.9,1907.9 L1462.8,1938.6 L1470.8,1909.8 L1477.7,1921.7 L1484.6,1929.7 L1490.6,1915.8 L1498.5,1881.1 L1505.5,1871.2 L1513.4,1865.2 L1518.4,1847.3 L1526.3,1835.4 L1532.3,1878.1 L1539.2,1913.8 L1547.1,1946.5 L1554.1,1913.8 L1561.0,1923.7 L1568.0,1929.7 L1574.9,1911.8 L1582.9,1876.1 L1589.8,1870.2 L1596.7,1871.2 L1603.7,1852.3 L1610.6,1846.3 L1616.6,1897.9 L1623.5,1925.7 L1631.5,1949.5 L1638.4,1920.8 L1645.4,1931.7 L1652.3,1937.6 L1659.2,1921.7 L1666.2,1892.0 L1673.1,1887.0 L1680.1,1889.0 L1687.0,1862.2 L1695.0,1860.2 L1701.9,1894.0 L1707.9,1921.7 L1715.4,1953.5 L1721.7,1927.7 L1729.7,1939.6 L1737.6,1946.5 L1742.7,1937.6 L1749.6,1903.9 L1756.5,1901.9 L1763.5,1897.9 L1770.4,1870.2 L1778.4,1859.2 L1783.3,1888.0 L1788.3,1921.7 L1794.2,1945.6 L1800.2,1963.4 L1807.1,1935.6 L1813.1,1945.6 L1821.0,1952.5 L1828.0,1941.6 L1834.9,1910.8 L1841.9,1910.8 L1848.8,1912.8 L1855.8,1886.0 L1862.7,1897.9 L1868.7,1927.7 L1875.6,1951.5 L1882.9,1981.3 L1890.5,1951.5 L1897.4,1959.4 L1905.4,1962.4 L1911.3,1949.5 L1918.3,1917.8 L1925.2,1915.8 L1932.1,1908.8 L1940.1,1881.1 L1947.0,1889.0 L1952.0,1919.8 L1957.9,1945.6 L1966.9,1977.3" fill="none" stroke="#e83232" stroke-width="4.3" stroke-linejoin="round" stroke-linecap="butt"/>
<line x1="995" y1="1455.3" x2="1114.8" y2="1455.3" stroke="#1463d6" stroke-width="4.3"/>
<text x="1126.9" y="1472.2" font-size="52.1">Replacement block<tspan dx="-4.64" dy="-3.29" font-size="40.64">–</tspan><tspan dx="0.87" dy="3.29">stone subgrade</tspan></text>
<line x1="995" y1="1519.8" x2="1114.8" y2="1519.8" stroke="#434343" stroke-width="4.3"/>
<text x="1126.9" y="1536.7" font-size="52.1">Replacement breccia subgrade</text>
<line x1="995" y1="1584.3" x2="1114.8" y2="1584.3" stroke="#e83232" stroke-width="4.3"/>
<text x="1126.9" y="1601.2" font-size="52.1">Replacement gravel subgrade</text>
<rect x="286.0" y="1183.0" width="1681.5" height="882.0" fill="none" stroke="#000" stroke-width="4.3"/>
<g stroke="#000" stroke-width="4.3"><line x1="262.0" y1="1183.0" x2="286.0" y2="1183.0"/><line x1="274.0" y1="1256.5" x2="286.0" y2="1256.5"/><line x1="262.0" y1="1330.0" x2="286.0" y2="1330.0"/><line x1="274.0" y1="1403.5" x2="286.0" y2="1403.5"/><line x1="262.0" y1="1477.0" x2="286.0" y2="1477.0"/><line x1="274.0" y1="1550.5" x2="286.0" y2="1550.5"/><line x1="262.0" y1="1624.0" x2="286.0" y2="1624.0"/><line x1="274.0" y1="1697.5" x2="286.0" y2="1697.5"/><line x1="262.0" y1="1771.0" x2="286.0" y2="1771.0"/><line x1="274.0" y1="1844.5" x2="286.0" y2="1844.5"/><line x1="262.0" y1="1918.0" x2="286.0" y2="1918.0"/><line x1="274.0" y1="1991.5" x2="286.0" y2="1991.5"/><line x1="262.0" y1="2065.0" x2="286.0" y2="2065.0"/><line x1="286.0" y1="2065.0" x2="286.0" y2="2088.0"/><line x1="370.1" y1="2065.0" x2="370.1" y2="2077.0"/><line x1="454.1" y1="2065.0" x2="454.1" y2="2088.0"/><line x1="538.2" y1="2065.0" x2="538.2" y2="2077.0"/><line x1="622.3" y1="2065.0" x2="622.3" y2="2088.0"/><line x1="706.4" y1="2065.0" x2="706.4" y2="2077.0"/><line x1="790.5" y1="2065.0" x2="790.5" y2="2088.0"/><line x1="874.5" y1="2065.0" x2="874.5" y2="2077.0"/><line x1="958.6" y1="2065.0" x2="958.6" y2="2088.0"/><line x1="1042.7" y1="2065.0" x2="1042.7" y2="2077.0"/><line x1="1126.8" y1="2065.0" x2="1126.8" y2="2088.0"/><line x1="1210.8" y1="2065.0" x2="1210.8" y2="2077.0"/><line x1="1294.9" y1="2065.0" x2="1294.9" y2="2088.0"/><line x1="1379.0" y1="2065.0" x2="1379.0" y2="2077.0"/><line x1="1463.0" y1="2065.0" x2="1463.0" y2="2088.0"/><line x1="1547.1" y1="2065.0" x2="1547.1" y2="2077.0"/><line x1="1631.2" y1="2065.0" x2="1631.2" y2="2088.0"/><line x1="1715.3" y1="2065.0" x2="1715.3" y2="2077.0"/><line x1="1799.3" y1="2065.0" x2="1799.3" y2="2088.0"/><line x1="1883.4" y1="2065.0" x2="1883.4" y2="2077.0"/><line x1="1967.5" y1="2065.0" x2="1967.5" y2="2088.0"/></g>
<g font-size="51.5"><text x="244.6" y="1199.1" text-anchor="end">5</text><text x="244.6" y="1346.1" text-anchor="end">0</text><text x="244.6" y="1493.1" text-anchor="end"><tspan font-size="46.7" dy="0">−</tspan><tspan dx="2.9" dy="0" font-size="51.5">5</tspan></text><text x="244.6" y="1640.1" text-anchor="end"><tspan font-size="46.7" dy="0">−</tspan><tspan dx="-4.2" dy="0" font-size="51.5">10</tspan></text><text x="244.6" y="1787.1" text-anchor="end"><tspan font-size="46.7" dy="0">−</tspan><tspan dx="-4.2" dy="0" font-size="51.5">15</tspan></text><text x="244.6" y="1934.1" text-anchor="end"><tspan font-size="46.7" dy="0">−</tspan><tspan dx="2.3" dy="0" font-size="51.5">20</tspan></text><text x="244.6" y="2081.1" text-anchor="end"><tspan font-size="46.7" dy="0">−</tspan><tspan dx="-0.3" dy="0" font-size="51.5">25</tspan></text></g>
<g font-size="51.5" letter-spacing="1"><text x="218.0" y="2147.7">2019</text><text x="393.3" y="2147.7">2021</text><text x="554.3" y="2147.7">2023</text><text x="729.6" y="2147.7">2025</text><text x="890.9" y="2147.7">2027</text><text x="1066.0" y="2147.7">2029</text><text x="1242.0" y="2147.7">2031</text><text x="1402.3" y="2147.7">2033</text><text x="1563.1" y="2147.7">2035</text><text x="1737.9" y="2147.7">2037</text><text x="1899.1" y="2147.7">2039</text></g>
<text x="1127.5" y="2231.7" font-size="58" text-anchor="middle">Time (Year)</text>
<text transform="translate(99.9,1624.6) rotate(-90)" font-size="57.3" text-anchor="middle">Vertical deformation (cm)</text>
<text x="300.8" y="1242" font-size="57.5" font-weight="bold">b</text>
</svg>
</body></html>
